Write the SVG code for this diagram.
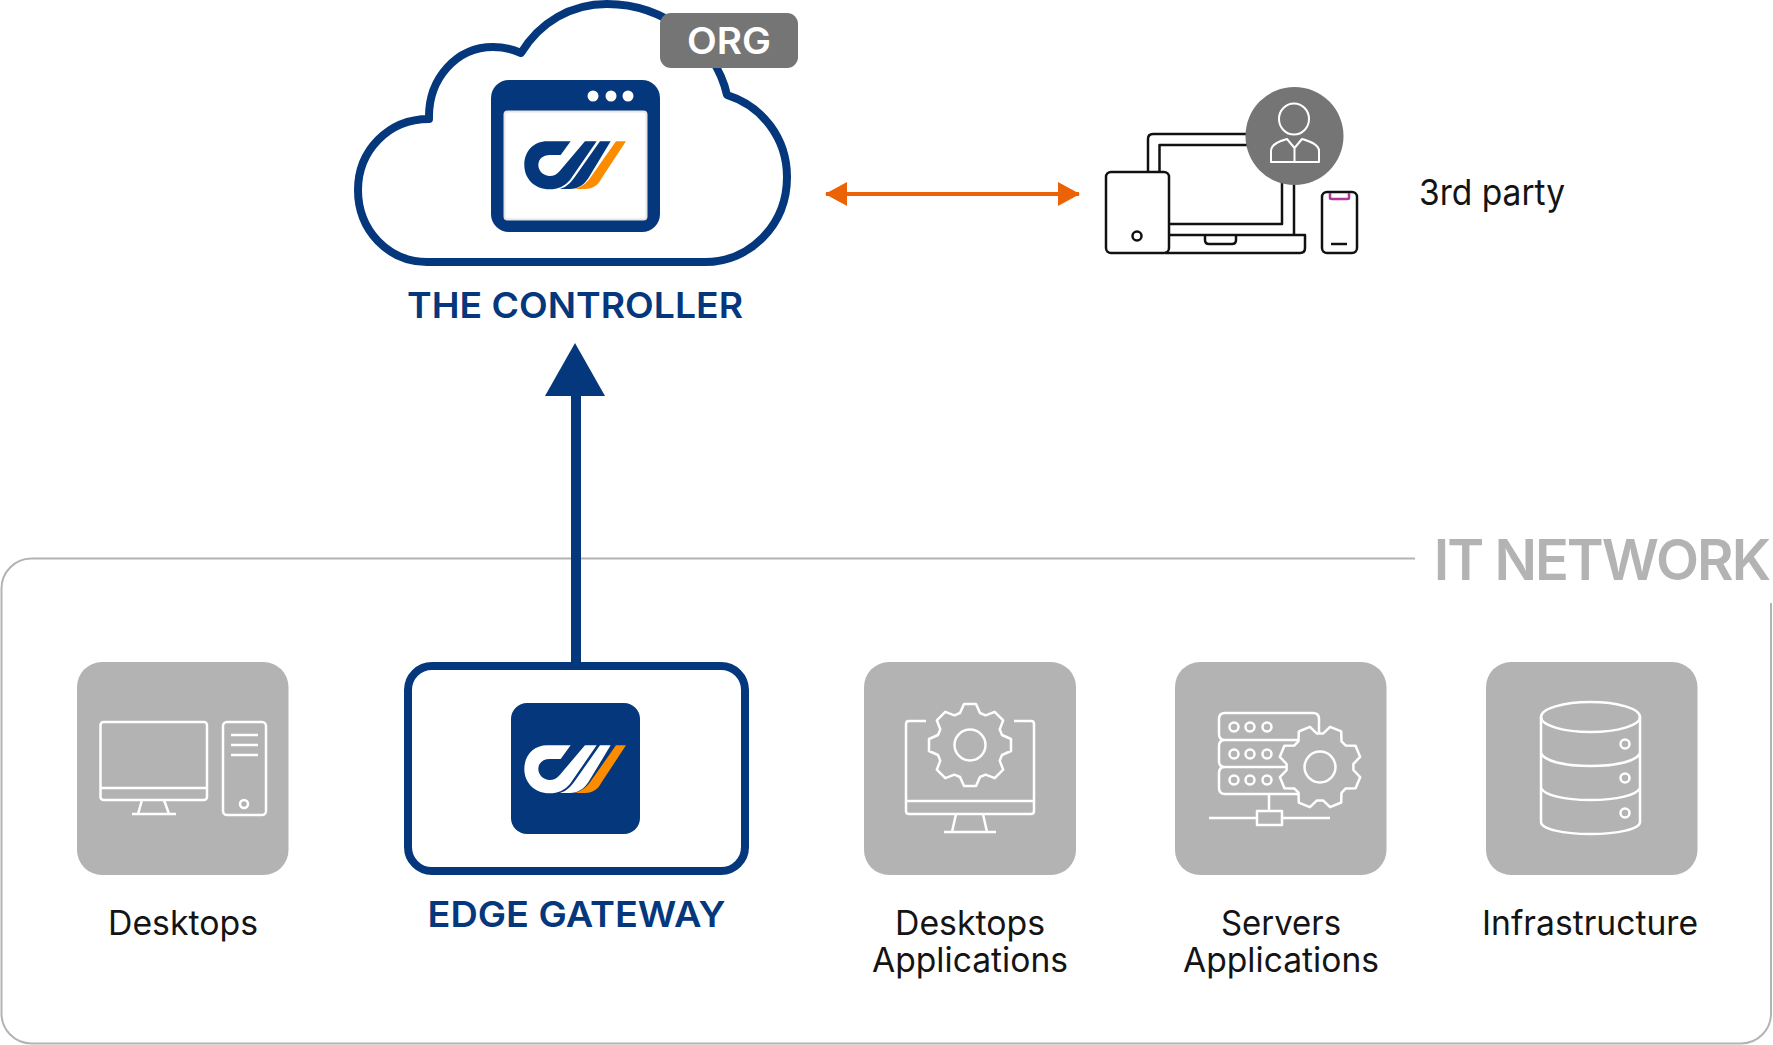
<svg xmlns="http://www.w3.org/2000/svg" xmlns:xlink="http://www.w3.org/1999/xlink" width="1773" height="1045" viewBox="0 0 1773 1045">
<style>
text{font-family:Inter,"Liberation Sans",sans-serif}
.lbl{font-size:34px;fill:#141414;font-weight:400;text-anchor:middle}
.blue{fill:#04377b;font-weight:600;font-size:36px}
.tile{fill:#b3b3b3}
.wl{fill:none;stroke:#fff;stroke-width:2.5;stroke-linejoin:round;stroke-linecap:butt}
.bl{fill:none;stroke:#111;stroke-width:2.5;stroke-linejoin:round}
</style>
<defs>
<g id="logoMain" transform="translate(340 0) scale(.3333)">
<path id="logoC" d="M692 424L622 424C580 424 553 455 553 495C553 537 585 568 628 568C655 568 675 558 690 540L770 424L735 424L660 512C650 524 640 528 630 528C610 528 595 512 595 495C595 478 608 465 630 465L662 465Z"/>
<path id="logoS" d="M812 424L780 424L705 530C690 552 675 562 660 567L690 567C715 567 732 555 745 535Z"/>
<path d="M858 424L828 424L750 535C738 552 722 562 705 567L735 567C760 567 775 555 785 535Z" fill="#fb8c00"/>
</g>
<polygon id="gear" points="-10,-32 -6,-41 6,-41 10,-32 15.6,-29.7 24.7,-33.2 33.2,-24.7 29.7,-15.6 32,-10 41,-6 41,6 32,10 29.7,15.6 33.2,24.7 24.7,33.2 15.6,29.7 10,32 6,41 -6,41 -10,32 -15.6,29.7 -24.7,33.2 -33.2,24.7 -29.7,15.6 -32,10 -41,6 -41,-6 -32,-10 -29.7,-15.6 -33.2,-24.7 -24.7,-33.2 -15.6,-29.7"/>
<marker id="oa" markerUnits="userSpaceOnUse" markerWidth="22" markerHeight="24" refX="21" refY="12" orient="auto-start-reverse" viewBox="0 0 22 24"><path d="M0 0L22 12L0 24Z" fill="#ec6306"/></marker>
</defs>
<rect width="1773" height="1045" fill="#fff"/>

<g id="it-network">
<path d="M1415 558.500H31A30 30 0 0 0 1.500 588.500V1013A30 30 0 0 0 31.500 1043.500H1741A30 30 0 0 0 1771 1013V603" fill="none" stroke="#b3b3b3" stroke-width="2"/>
<text x="1769" y="580" font-size="56" font-weight="600" fill="#b3b3b3" text-anchor="end" letter-spacing="-2">IT NETWORK</text>
</g>

<g id="connectors">
<path d="M576 664V394" stroke="#04377b" stroke-width="10" fill="none"/>
<path d="M575 343L605 396H545Z" fill="#04377b"/>
<path d="M826 194H1079" stroke="#ec6306" stroke-width="4" fill="none" marker-start="url(#oa)" marker-end="url(#oa)"/>
</g>

<g id="controller">
<path d="M427 262H705C750 262 787 225 787 177C787 138 762 106 727 95C716 45 665 4 607 4C571 4 540 22 521 53C512 49 503 47 493 47C457 47 428 78 429 119C388 119 358 151 358 190C358 230 388 262 427 262Z" fill="#fff" stroke="#04377b" stroke-width="8" stroke-linejoin="round"/>
<rect x="491" y="80" width="169" height="152" rx="18" fill="#04377b"/>
<rect x="504.500" y="111.500" width="142" height="108" rx="3" fill="#fff" stroke="#e6e6e6" stroke-width="2"/>
<circle cx="593" cy="96" r="5.500" fill="#fff"/><circle cx="611" cy="96" r="5.500" fill="#fff"/><circle cx="628" cy="96" r="5.500" fill="#fff"/>
<use xlink:href="#logoMain" href="#logoMain" fill="#04377b"/>
<text class="blue" x="575" y="318" text-anchor="middle" font-size="36" textLength="336" lengthAdjust="spacingAndGlyphs">THE CONTROLLER</text>
</g>

<g id="org-badge">
<rect x="660" y="13" width="138" height="55" rx="11" fill="#757575"/>
<text x="729" y="54" font-size="37" font-weight="600" fill="#fff" text-anchor="middle" textLength="84" lengthAdjust="spacingAndGlyphs">ORG</text>
</g>

<g id="third-party">
<path class="bl" d="M1148 172V139Q1148 134 1153 134H1294V235"/>
<path class="bl" d="M1159.500 172V145H1282V224H1169"/>
<path class="bl" d="M1169 235H1305V248Q1305 253 1300 253H1165"/>
<path class="bl" d="M1205 235V240Q1205 244 1209 244H1232Q1236 244 1236 240V235"/>
<rect class="bl" x="1106" y="172" width="63" height="81" rx="5" fill="#fff"/>
<circle class="bl" cx="1137" cy="236" r="4.500"/>
<rect class="bl" x="1322" y="192" width="35" height="61" rx="5"/>
<path d="M1330 193V198Q1330 199 1332 199H1347Q1349 199 1349 198V193" fill="none" stroke="#b5339b" stroke-width="2.500"/>
<path d="M1331 244H1347" stroke="#111" stroke-width="2.500"/>
<circle cx="1294.500" cy="136" r="49" fill="#757575"/>
<ellipse class="wl" cx="1294" cy="119" rx="15" ry="15.500" style="stroke-width:2"/>
<path class="wl" style="stroke-width:2" d="M1271 162V151C1271 144 1280 141 1287 139L1294.500 148L1302 139C1309 141 1319 144 1319 151V162ZM1294.500 148V162"/>
<text x="1492" y="205" font-size="36" fill="#141414" text-anchor="middle" textLength="146" lengthAdjust="spacingAndGlyphs">3rd party</text>
</g>

<g id="desktops">
<rect class="tile" x="77" y="662" width="211.500" height="213" rx="25"/>
<rect class="wl" x="100.500" y="722" width="106.500" height="78" rx="3"/>
<path class="wl" d="M100.500 788H207M142 800L138 814M164 800L169 814M132 814H176"/>
<rect class="wl" x="223" y="722" width="43" height="93" rx="4"/>
<path class="wl" d="M231 735H258M231 745H258M231 755H258"/>
<circle class="wl" cx="244" cy="804" r="4"/>
<text class="lbl" x="183" y="935" textLength="150" lengthAdjust="spacingAndGlyphs">Desktops</text>
</g>

<g id="edge-gateway">
<rect x="408" y="666" width="337" height="205" rx="24" fill="#fff" stroke="#04377b" stroke-width="8"/>
<rect x="511" y="703" width="129" height="131" rx="16" fill="#04377b"/>
<use xlink:href="#logoMain" href="#logoMain" fill="#fff" transform="translate(0 604)"/>
<text class="blue" x="576.500" y="927" text-anchor="middle" textLength="298" lengthAdjust="spacingAndGlyphs">EDGE GATEWAY</text>
</g>

<g id="desktops-applications">
<rect class="tile" x="864" y="662" width="212" height="213" rx="25"/>
<path class="wl" d="M926 721H909Q906 721 906 724V811Q906 814 909 814H1031Q1034 814 1034 811V724Q1034 721 1031 721H1014M906 801H1034M956 814L952 832M983 814L987 832M944 832H996"/>
<use class="wl" xlink:href="#gear" href="#gear" x="970" y="745"/>
<circle class="wl" cx="970" cy="745" r="15.500"/>
<text class="lbl" x="970" y="935" textLength="150" lengthAdjust="spacingAndGlyphs">Desktops</text>
<text class="lbl" x="970" y="972" textLength="196" lengthAdjust="spacingAndGlyphs">Applications</text>
</g>

<g id="servers-applications">
<rect class="tile" x="1175" y="662" width="211.500" height="213" rx="25"/>
<path class="wl" d="M1319 735V719Q1319 713 1313 713H1225Q1219 713 1219 719V734Q1219 740 1225 740H1300M1225 740Q1219 740 1219 746V761Q1219 767 1225 767H1290M1225 767Q1219 767 1219 773V788Q1219 794 1225 794H1300M1269 794V811M1209 818H1257M1282 818H1330"/>
<rect class="wl" x="1257" y="811" width="25" height="14"/>
<g fill="none" stroke="#fff" stroke-width="2.500"><circle cx="1234" cy="727" r="4.500"/><circle cx="1250" cy="727" r="4.500"/><circle cx="1267" cy="727" r="4.500"/><circle cx="1234" cy="754" r="4.500"/><circle cx="1250" cy="754" r="4.500"/><circle cx="1267" cy="754" r="4.500"/><circle cx="1234" cy="780" r="4.500"/><circle cx="1250" cy="780" r="4.500"/><circle cx="1267" cy="780" r="4.500"/></g>
<use xlink:href="#gear" href="#gear" transform="translate(1320 767) rotate(22.500)" fill="#b3b3b3" stroke="#fff" stroke-width="2.500" stroke-linejoin="round"/>
<circle class="wl" cx="1320" cy="767" r="15.500"/>
<text class="lbl" x="1281" y="935" textLength="120" lengthAdjust="spacingAndGlyphs">Servers</text>
<text class="lbl" x="1281" y="972" textLength="196" lengthAdjust="spacingAndGlyphs">Applications</text>
</g>

<g id="infrastructure">
<rect class="tile" x="1486" y="662" width="211.500" height="213" rx="25"/>
<ellipse class="wl" cx="1590.500" cy="717" rx="49.500" ry="15"/>
<path class="wl" d="M1541 717V822C1541 829 1563 834 1590.500 834C1618 834 1640 829 1640 822V717M1541 753C1544 761 1564 766 1590.500 766C1617 766 1637 761 1640 753M1541 788C1544 795 1564 800 1590.500 800C1617 800 1637 795 1640 788"/>
<circle class="wl" cx="1625" cy="744" r="4.500"/><circle class="wl" cx="1625" cy="778" r="4.500"/><circle class="wl" cx="1625" cy="813" r="4.500"/>
<text class="lbl" x="1590" y="935" textLength="216" lengthAdjust="spacingAndGlyphs">Infrastructure</text>
</g>
</svg>
